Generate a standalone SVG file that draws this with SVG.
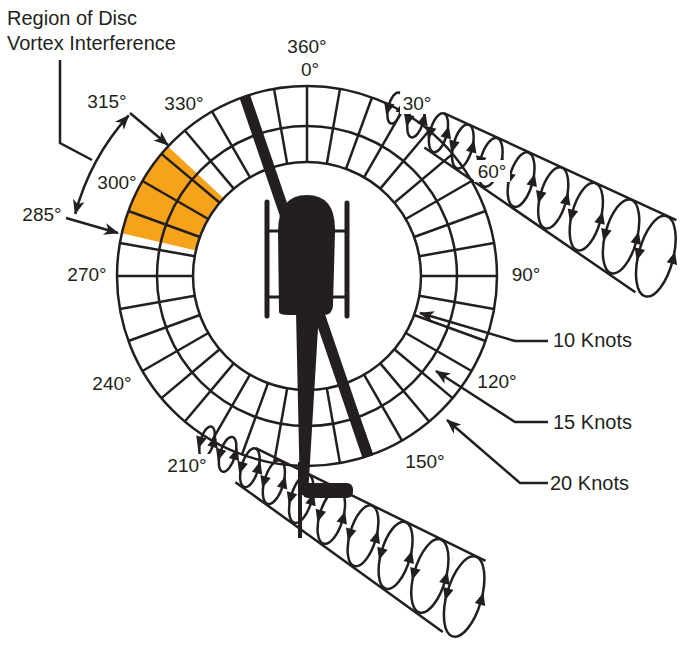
<svg xmlns="http://www.w3.org/2000/svg" xmlns:xlink="http://www.w3.org/1999/xlink" width="696" height="650" viewBox="0 0 696 650">
<style>
.ln{stroke:#231f20;stroke-width:2.5;fill:none}
.t{font-family:"Liberation Sans",Arial,sans-serif;font-size:19px;fill:#231f20;text-anchor:middle}
.tl{font-family:"Liberation Sans",Arial,sans-serif;font-size:20px;fill:#231f20}
.blk{fill:#231f20}
</style>
<defs>
<marker id="arr" markerUnits="userSpaceOnUse" markerWidth="16" markerHeight="12" refX="14" refY="6" orient="auto-start-reverse"><path d="M0,0 L15,6 L0,12 L4,6 Z" fill="#231f20"/></marker>
<path id="up" d="M0,-6 L3.5,2 L-3.5,2 Z" fill="#231f20"/>
<path id="dn" d="M0,6 L3.5,-2 L-3.5,-2 Z" fill="#231f20"/>
<line id="rad" x1="307" y1="162" x2="307" y2="86" class="ln"/>
<g id="tube" class="ln">
<path d="M45,-19.8 L300,-41.5 M45,19.8 L300,41.5"/>
<g transform="translate(0,0) rotate(-15)"><ellipse rx="6.7" ry="16"/><use href="#up" x="6.7"/><use href="#dn" x="-6.7"/></g>
<g transform="translate(24,0) rotate(-15)"><ellipse rx="7.6" ry="18"/><use href="#up" x="7.6"/><use href="#dn" x="-7.6"/></g>
<g transform="translate(50,0) rotate(-15)"><ellipse rx="8.4" ry="20"/><use href="#up" x="8.4"/><use href="#dn" x="-8.4"/></g>
<g transform="translate(78,0) rotate(-15)"><ellipse rx="9.5" ry="22.6"/><use href="#up" x="9.5"/><use href="#dn" x="-9.5"/></g>
<g transform="translate(110,0) rotate(-15)"><ellipse rx="10.5" ry="25"/><use href="#up" x="10.5"/><use href="#dn" x="-10.5"/></g>
<g transform="translate(145,0) rotate(-15)"><ellipse rx="11.8" ry="28"/><use href="#up" x="11.8"/><use href="#dn" x="-11.8"/></g>
<g transform="translate(182,0) rotate(-15)"><ellipse rx="13.2" ry="31.5"/><use href="#up" x="13.2"/><use href="#dn" x="-13.2"/></g>
<g transform="translate(220,0) rotate(-15)"><ellipse rx="14.6" ry="34.7"/><use href="#up" x="14.6"/><use href="#dn" x="-14.6"/></g>
<g transform="translate(260,0) rotate(-15)"><ellipse rx="16" ry="38"/><use href="#up" x="16"/><use href="#dn" x="-16"/></g>
<g transform="translate(300,0) rotate(-15)"><ellipse rx="17.4" ry="41.5"/><use href="#up" x="17.4"/><use href="#dn" x="-17.4"/></g>
</g>
</defs>
<rect width="696" height="650" fill="#fff"/>

<g id="disc">
<path d="M121.9,233.3 A190,190 0 0 1 168,146.4 L223.6,198.3 A114,114 0 0 0 195.9,250.4 Z" fill="#f7a21b"/>
<circle cx="307" cy="276" r="190" class="ln"/>
<circle cx="307" cy="276" r="150" class="ln"/>
<circle cx="307" cy="276" r="114" class="ln"/>
<use href="#rad" transform="rotate(0 307 276)"/><use href="#rad" transform="rotate(10 307 276)"/><use href="#rad" transform="rotate(20 307 276)"/><use href="#rad" transform="rotate(30 307 276)"/><use href="#rad" transform="rotate(40 307 276)"/><use href="#rad" transform="rotate(50 307 276)"/><use href="#rad" transform="rotate(60 307 276)"/><use href="#rad" transform="rotate(70 307 276)"/><use href="#rad" transform="rotate(80 307 276)"/>
<use href="#rad" transform="rotate(100 307 276)"/><use href="#rad" transform="rotate(110 307 276)"/><use href="#rad" transform="rotate(120 307 276)"/><use href="#rad" transform="rotate(130 307 276)"/><use href="#rad" transform="rotate(140 307 276)"/><use href="#rad" transform="rotate(150 307 276)"/><use href="#rad" transform="rotate(160 307 276)"/><use href="#rad" transform="rotate(170 307 276)"/><use href="#rad" transform="rotate(180 307 276)"/>
<use href="#rad" transform="rotate(190 307 276)"/><use href="#rad" transform="rotate(200 307 276)"/><use href="#rad" transform="rotate(210 307 276)"/><use href="#rad" transform="rotate(220 307 276)"/><use href="#rad" transform="rotate(230 307 276)"/><use href="#rad" transform="rotate(240 307 276)"/><use href="#rad" transform="rotate(250 307 276)"/><use href="#rad" transform="rotate(260 307 276)"/>
<use href="#rad" transform="rotate(280 307 276)"/><use href="#rad" transform="rotate(290 307 276)"/><use href="#rad" transform="rotate(300 307 276)"/><use href="#rad" transform="rotate(310 307 276)"/><use href="#rad" transform="rotate(320 307 276)"/><use href="#rad" transform="rotate(330 307 276)"/><use href="#rad" transform="rotate(340 307 276)"/><use href="#rad" transform="rotate(350 307 276)"/>
<line x1="421" y1="276" x2="497" y2="276" class="ln" stroke-width="4"/>
<line x1="117" y1="276" x2="193" y2="276" class="ln" stroke-width="4"/>
</g>

<g id="vortex-right"><use href="#tube" transform="translate(395,108) rotate(29.6)"/></g>
<g id="vortex-left"><use href="#tube" transform="translate(207,442) rotate(31)"/></g>

<g id="helicopter">
<line x1="245" y1="97" x2="368" y2="457" stroke="#231f20" stroke-width="11"/>
<g stroke="#231f20" stroke-width="5" stroke-linecap="round" fill="none">
<line x1="267" y1="202" x2="267" y2="316"/><line x1="347" y1="203" x2="347" y2="316"/>
<path d="M267,231 H280 M267,297 H280 M334,231 H347 M334,297 H347" stroke-width="3"/>
</g>
<path class="blk" d="M279,312 L278,232 Q278,195 307,195 Q336,195 335,232 L333,305 Q333,315 323,315 L289,315 Q279,315 279,312 Z"/>
<path class="blk" d="M296,312 L319,312 L308,495 L300,495 Z"/>
<rect class="blk" x="302" y="483" width="51" height="15" rx="6"/>
<line x1="300" y1="462" x2="300" y2="538" stroke="#231f20" stroke-width="4"/>
</g>

<g id="connectors" class="ln">
<path d="M60,60 L60,143 L92,160"/>
<path d="M128.7,115.4 A240,240 0 0 0 75.2,213.9" marker-start="url(#arr)" marker-end="url(#arr)"/>
<path d="M130,113 L168,145" marker-end="url(#arr)"/>
<path d="M66,218 L118,233" marker-end="url(#arr)"/>
<path d="M548,341 L515,341 L420,313" marker-end="url(#arr)"/>
<path d="M548,422 L515,422 L436,371" marker-end="url(#arr)"/>
<path d="M548,483 L520,483 L447,420" marker-end="url(#arr)"/>
</g>

<g id="labels">
<text class="tl" x="7" y="25" font-size="21">Region of Disc</text>
<text class="tl" x="7" y="50" font-size="21">Vortex Interference</text>
<text class="t" x="307" y="53">360°</text>
<text class="t" x="310" y="76">0°</text>
<rect x="400" y="92" width="36" height="22" fill="#fff"/>
<text class="t" x="417" y="110">30°</text>
<rect x="474" y="160" width="36" height="22" fill="#fff"/>
<text class="t" x="492" y="178">60°</text>
<text class="t" x="526" y="281">90°</text>
<text class="t" x="497" y="388">120°</text>
<text class="t" x="425" y="468">150°</text>
<rect x="164" y="454" width="46" height="22" fill="#fff"/>
<text class="t" x="187" y="472">210°</text>
<text class="t" x="112" y="390">240°</text>
<text class="t" x="87" y="281">270°</text>
<text class="t" x="42" y="221">285°</text>
<text class="t" x="117" y="189">300°</text>
<text class="t" x="107" y="108">315°</text>
<text class="t" x="184" y="110">330°</text>
<text class="tl" x="553" y="347">10 Knots</text>
<text class="tl" x="553" y="429">15 Knots</text>
<text class="tl" x="550" y="490">20 Knots</text>
</g>
</svg>
